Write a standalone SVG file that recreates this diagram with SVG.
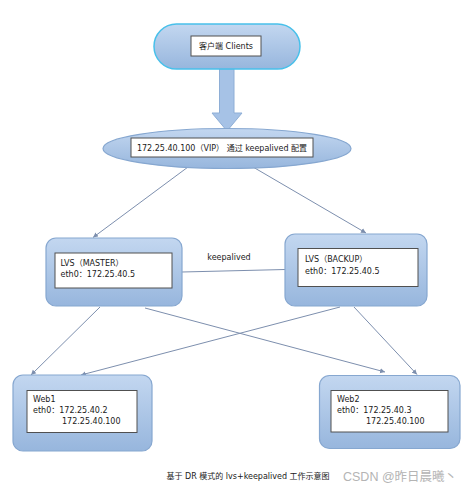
<svg xmlns="http://www.w3.org/2000/svg" width="474" height="493" viewBox="0 0 474 493">
<defs>
<linearGradient id="g" x1="0" y1="0" x2="0" y2="1">
<stop offset="0" stop-color="#c3d7f0"/>
<stop offset="1" stop-color="#97b6dd"/>
</linearGradient>
<marker id="ah" markerWidth="6" markerHeight="6" refX="5" refY="3" orient="auto" markerUnits="userSpaceOnUse">
<path d="M0,0.5 L5,3 L0,5.5 Z" fill="#7d8fae"/>
</marker>
<style>
.box{fill:url(#g);stroke:#86a7d0;stroke-width:1.2}
.inner{fill:#ffffff;stroke:#505050;stroke-width:1}
.t{font-family:"DejaVu Sans","Noto Sans CJK SC",sans-serif;font-size:8px;fill:#1a1a1a}
.c{stroke:#7d8fae;stroke-width:1;fill:none;marker-end:url(#ah)}
</style>
</defs>
<rect width="474" height="493" fill="#ffffff"/>
<g id="connectors">
<path d="M219.5,69 L234,69 L234,113 L242,113 L227,131 L212,113 L219.5,113 Z" fill="#a6c2e6" stroke="#8eaed6" stroke-width="1"/>
<line class="c" x1="188" y1="167" x2="93" y2="237.5"/>
<line class="c" x1="253" y1="167" x2="366" y2="233"/>
<line x1="182" y1="272" x2="285" y2="269.5" stroke="#7d8fae" stroke-width="1"/>
<line class="c" x1="100" y1="307" x2="31" y2="375"/>
<line class="c" x1="145" y1="308" x2="385" y2="372"/>
<line class="c" x1="340" y1="307" x2="81" y2="375"/>
<line class="c" x1="354" y1="307" x2="417" y2="374.5"/>
<text class="t" x="229" y="260" text-anchor="middle">keepalived</text>
</g>
<g id="clients">
<rect x="154" y="24" width="146" height="45" rx="22.5" fill="url(#g)" stroke="#48c0ea" stroke-width="1.5"/>
<rect class="inner" x="191" y="36" width="70" height="20"/>
<text class="t" x="226" y="48.5" text-anchor="middle">客户端 Clients</text>
</g>
<g id="vip">
<ellipse cx="227" cy="148.5" rx="124" ry="20" class="box"/>
<rect class="inner" x="131" y="138" width="182" height="19"/>
<text class="t" x="222" y="150.5" text-anchor="middle">172.25.40.100（VIP） 通过 keepalived 配置</text>
</g>
<g id="master">
<rect class="box" x="46" y="238" width="136" height="68" rx="10"/>
<rect class="inner" x="55" y="253" width="117" height="35"/>
<text class="t" x="60.5" y="265.5">LVS（MASTER）</text>
<text class="t" x="60.5" y="276.5">eth0：172.25.40.5</text>
</g>
<g id="backup">
<rect class="box" x="285" y="234" width="142" height="72" rx="10"/>
<rect class="inner" x="298" y="248.5" width="120" height="38"/>
<text class="t" x="305" y="261.5">LVS（BACKUP）</text>
<text class="t" x="305" y="274">eth0：172.25.40.5</text>
</g>
<g id="web1">
<rect class="box" x="13" y="375" width="139" height="76" rx="10"/>
<rect class="inner" x="27" y="390.5" width="110" height="42"/>
<text class="t" x="33" y="402">Web1</text>
<text class="t" x="33" y="413">eth0：172.25.40.2</text>
<text class="t" x="62" y="424">172.25.40.100</text>
</g>
<g id="web2">
<rect class="box" x="319.5" y="375.5" width="140.5" height="73" rx="10"/>
<rect class="inner" x="331" y="390.5" width="117" height="41.5"/>
<text class="t" x="337" y="402">Web2</text>
<text class="t" x="337" y="413">eth0：172.25.40.3</text>
<text class="t" x="366" y="424">172.25.40.100</text>
</g>
<text class="t" x="166.5" y="479">基于 DR 模式的 lvs+keepalived 工作示意图</text>
<text x="343" y="481" font-family="'Liberation Sans','Noto Sans CJK SC',sans-serif" font-size="12.5" fill="#b4b4b4">CSDN @昨日晨曦丶</text>
</svg>
